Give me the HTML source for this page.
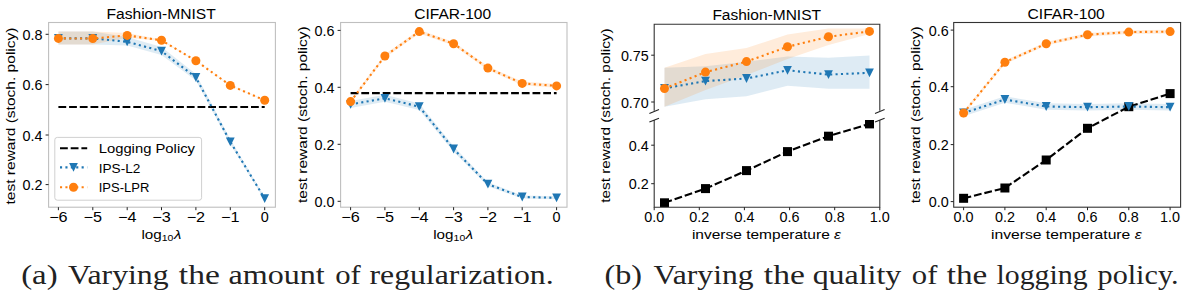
<!DOCTYPE html><html><head><meta charset="utf-8"><style>html,body{margin:0;padding:0;background:#fff;}body{width:1190px;height:292px;overflow:hidden;position:relative;}svg{position:absolute;left:0;top:0;}text{fill:#000;font-family:"Liberation Sans",sans-serif;}.cap{font-family:"Liberation Serif",serif;fill:#222;}</style></head><body>
<svg width="1190" height="292" viewBox="0 0 1190 292">
<defs><clipPath id="c1"><rect x="48.6" y="22.5" width="226.8" height="184.7"/></clipPath><clipPath id="c2"><rect x="340.6" y="22.5" width="226.4" height="184.7"/></clipPath><clipPath id="c3u"><rect x="654.2" y="24.3" width="225.6" height="86.5"/></clipPath><clipPath id="c3l"><rect x="654.2" y="120" width="225.6" height="87.2"/></clipPath><clipPath id="c4"><rect x="953.7" y="22.5" width="226.9" height="184.7"/></clipPath></defs>
<g clip-path="url(#c1)">
<polygon points="58.4,31.5 92.8,31.5 127.2,37.0 161.5,47.0 195.9,74.0 230.3,139.3 264.7,197.0 264.7,200.2 230.3,144.3 195.9,80.5 161.5,55.0 127.2,45.5 92.8,44.5 58.4,44.5" fill="#1f77b4" fill-opacity="0.14"/>
<polygon points="58.4,31.5 92.8,31.5 127.2,33.0 161.5,39.5 195.9,60.5 230.3,85.1 264.7,100.0 264.7,100.6 230.3,85.7 195.9,61.1 161.5,41.1 127.2,37.8 92.8,44.5 58.4,44.5" fill="#ff7f0e" fill-opacity="0.15"/>
<polyline points="58.4,107.0 264.7,107.0" fill="none" stroke="#000" stroke-width="2.1" stroke-dasharray="7.8 2.9"/>
<polyline points="58.4,38.4 92.8,38.4 127.2,41.8 161.5,51.1 195.9,77.5 230.3,141.8 264.7,198.6" fill="none" stroke="#1f77b4" stroke-width="2.1" stroke-dasharray="2.1 3.3"/>
<polygon points="54.00,34.00 62.80,34.00 58.40,42.80" fill="#1f77b4"/>
<polygon points="88.38,34.00 97.18,34.00 92.78,42.80" fill="#1f77b4"/>
<polygon points="122.76,37.40 131.56,37.40 127.16,46.20" fill="#1f77b4"/>
<polygon points="157.14,46.70 165.94,46.70 161.54,55.50" fill="#1f77b4"/>
<polygon points="191.52,73.10 200.32,73.10 195.92,81.90" fill="#1f77b4"/>
<polygon points="225.90,137.40 234.70,137.40 230.30,146.20" fill="#1f77b4"/>
<polygon points="260.28,194.20 269.08,194.20 264.68,203.00" fill="#1f77b4"/>
<polyline points="58.4,38.4 92.8,38.5 127.2,35.4 161.5,40.3 195.9,60.8 230.3,85.4 264.7,100.3" fill="none" stroke="#ff7f0e" stroke-width="2.1" stroke-dasharray="2.1 3.3"/>
<circle cx="58.4" cy="38.4" r="4.5" fill="#ff7f0e"/>
<circle cx="92.8" cy="38.5" r="4.5" fill="#ff7f0e"/>
<circle cx="127.2" cy="35.4" r="4.5" fill="#ff7f0e"/>
<circle cx="161.5" cy="40.3" r="4.5" fill="#ff7f0e"/>
<circle cx="195.9" cy="60.8" r="4.5" fill="#ff7f0e"/>
<circle cx="230.3" cy="85.4" r="4.5" fill="#ff7f0e"/>
<circle cx="264.7" cy="100.3" r="4.5" fill="#ff7f0e"/>
</g>
<rect x="48.6" y="22.5" width="226.79999999999998" height="184.7" fill="none" stroke="#bfbfbf" stroke-width="1.1"/>
<line x1="58.4" y1="207.2" x2="58.4" y2="210.2" stroke="#222" stroke-width="1"/>
<text x="58.4" y="222.3" font-size="13.9" text-anchor="middle" textLength="18.5" lengthAdjust="spacingAndGlyphs">−6</text>
<line x1="92.8" y1="207.2" x2="92.8" y2="210.2" stroke="#222" stroke-width="1"/>
<text x="92.8" y="222.3" font-size="13.9" text-anchor="middle" textLength="18.5" lengthAdjust="spacingAndGlyphs">−5</text>
<line x1="127.2" y1="207.2" x2="127.2" y2="210.2" stroke="#222" stroke-width="1"/>
<text x="127.2" y="222.3" font-size="13.9" text-anchor="middle" textLength="18.5" lengthAdjust="spacingAndGlyphs">−4</text>
<line x1="161.5" y1="207.2" x2="161.5" y2="210.2" stroke="#222" stroke-width="1"/>
<text x="161.5" y="222.3" font-size="13.9" text-anchor="middle" textLength="18.5" lengthAdjust="spacingAndGlyphs">−3</text>
<line x1="195.9" y1="207.2" x2="195.9" y2="210.2" stroke="#222" stroke-width="1"/>
<text x="195.9" y="222.3" font-size="13.9" text-anchor="middle" textLength="18.5" lengthAdjust="spacingAndGlyphs">−2</text>
<line x1="230.3" y1="207.2" x2="230.3" y2="210.2" stroke="#222" stroke-width="1"/>
<text x="230.3" y="222.3" font-size="13.9" text-anchor="middle" textLength="18.5" lengthAdjust="spacingAndGlyphs">−1</text>
<line x1="264.7" y1="207.2" x2="264.7" y2="210.2" stroke="#222" stroke-width="1"/>
<text x="264.7" y="222.3" font-size="13.9" text-anchor="middle" textLength="8.0" lengthAdjust="spacingAndGlyphs">0</text>
<line x1="45.6" y1="34.3" x2="48.6" y2="34.3" stroke="#222" stroke-width="1"/>
<text x="42.4" y="39.8" font-size="13.9" text-anchor="end" textLength="20.0" lengthAdjust="spacingAndGlyphs">0.8</text>
<line x1="45.6" y1="84.6" x2="48.6" y2="84.6" stroke="#222" stroke-width="1"/>
<text x="42.4" y="90.1" font-size="13.9" text-anchor="end" textLength="20.0" lengthAdjust="spacingAndGlyphs">0.6</text>
<line x1="45.6" y1="135.0" x2="48.6" y2="135.0" stroke="#222" stroke-width="1"/>
<text x="42.4" y="140.5" font-size="13.9" text-anchor="end" textLength="20.0" lengthAdjust="spacingAndGlyphs">0.4</text>
<line x1="45.6" y1="184.6" x2="48.6" y2="184.6" stroke="#222" stroke-width="1"/>
<text x="42.4" y="190.1" font-size="13.9" text-anchor="end" textLength="20.0" lengthAdjust="spacingAndGlyphs">0.2</text>
<text x="161.1" y="18.6" font-size="15.3" text-anchor="middle" textLength="109.3" lengthAdjust="spacingAndGlyphs">Fashion-MNIST</text>
<text x="141.4" y="239.1" font-size="13.0" textLength="20.3" lengthAdjust="spacingAndGlyphs">log</text>
<text x="161.8" y="241.1" font-size="9.6" textLength="11.6" lengthAdjust="spacingAndGlyphs">10</text>
<text x="174.0" y="239.1" font-size="13.6" font-style="italic" textLength="7.4" lengthAdjust="spacingAndGlyphs">λ</text>
<text transform="translate(14.6,116.0) rotate(-90)" x="0" y="0" font-size="13.2" text-anchor="middle" textLength="177.1" lengthAdjust="spacingAndGlyphs">test reward (stoch. policy)</text>
<rect x="54.8" y="137.4" width="146.8" height="62.8" rx="2.5" fill="#fff" fill-opacity="0.8" stroke="#d0d0d0" stroke-width="1"/>
<polyline points="60.0,148.2 87.2,148.2" fill="none" stroke="#000" stroke-width="2.1" stroke-dasharray="7.8 2.9"/>
<polyline points="60.0,167.4 87.2,167.4" fill="none" stroke="#1f77b4" stroke-width="2.1" stroke-dasharray="2.1 3.3"/>
<polygon points="69.10,163.00 77.90,163.00 73.50,171.80" fill="#1f77b4"/>
<polyline points="60.0,187.3 87.2,187.3" fill="none" stroke="#ff7f0e" stroke-width="2.1" stroke-dasharray="2.1 3.3"/>
<circle cx="73.5" cy="187.3" r="4.5" fill="#ff7f0e"/>
<text x="98.7" y="153.0" font-size="13.6" text-anchor="start" textLength="96.3" lengthAdjust="spacingAndGlyphs">Logging Policy</text>
<text x="98.7" y="172.5" font-size="13.6" text-anchor="start" textLength="41.7" lengthAdjust="spacingAndGlyphs">IPS-L2</text>
<text x="98.7" y="192.3" font-size="13.6" text-anchor="start" textLength="50.6" lengthAdjust="spacingAndGlyphs">IPS-LPR</text>
<g clip-path="url(#c2)">
<polygon points="350.6,100.9 384.9,94.8 419.3,103.5 453.6,146.2 487.9,182.2 522.2,195.5 556.6,196.3 556.6,199.3 522.2,198.5 487.9,186.2 453.6,151.8 419.3,109.9 384.9,101.8 350.6,107.9" fill="#1f77b4" fill-opacity="0.14"/>
<polygon points="350.6,99.8 384.9,54.2 419.3,29.8 453.6,41.9 487.9,66.3 522.2,81.6 556.6,84.1 556.6,87.7 522.2,85.2 487.9,69.9 453.6,45.5 419.3,33.4 384.9,57.8 350.6,103.4" fill="#ff7f0e" fill-opacity="0.15"/>
<polyline points="350.6,93.1 556.6,93.1" fill="none" stroke="#000" stroke-width="2.1" stroke-dasharray="7.8 2.9"/>
<polyline points="350.6,104.4 384.9,98.3 419.3,106.7 453.6,149.0 487.9,184.2 522.2,197.0 556.6,197.8" fill="none" stroke="#1f77b4" stroke-width="2.1" stroke-dasharray="2.1 3.3"/>
<polygon points="346.20,100.00 355.00,100.00 350.60,108.80" fill="#1f77b4"/>
<polygon points="380.53,93.90 389.33,93.90 384.93,102.70" fill="#1f77b4"/>
<polygon points="414.86,102.30 423.66,102.30 419.26,111.10" fill="#1f77b4"/>
<polygon points="449.19,144.60 457.99,144.60 453.59,153.40" fill="#1f77b4"/>
<polygon points="483.52,179.80 492.32,179.80 487.92,188.60" fill="#1f77b4"/>
<polygon points="517.85,192.60 526.65,192.60 522.25,201.40" fill="#1f77b4"/>
<polygon points="552.18,193.40 560.98,193.40 556.58,202.20" fill="#1f77b4"/>
<polyline points="350.6,101.6 384.9,56.0 419.3,31.6 453.6,43.7 487.9,68.1 522.2,83.4 556.6,85.9" fill="none" stroke="#ff7f0e" stroke-width="2.1" stroke-dasharray="2.1 3.3"/>
<circle cx="350.6" cy="101.6" r="4.5" fill="#ff7f0e"/>
<circle cx="384.9" cy="56.0" r="4.5" fill="#ff7f0e"/>
<circle cx="419.3" cy="31.6" r="4.5" fill="#ff7f0e"/>
<circle cx="453.6" cy="43.7" r="4.5" fill="#ff7f0e"/>
<circle cx="487.9" cy="68.1" r="4.5" fill="#ff7f0e"/>
<circle cx="522.2" cy="83.4" r="4.5" fill="#ff7f0e"/>
<circle cx="556.6" cy="85.9" r="4.5" fill="#ff7f0e"/>
</g>
<rect x="340.6" y="22.5" width="226.39999999999998" height="184.7" fill="none" stroke="#bfbfbf" stroke-width="1.1"/>
<line x1="350.6" y1="207.2" x2="350.6" y2="210.2" stroke="#222" stroke-width="1"/>
<text x="350.6" y="222.3" font-size="13.9" text-anchor="middle" textLength="18.5" lengthAdjust="spacingAndGlyphs">−6</text>
<line x1="384.9" y1="207.2" x2="384.9" y2="210.2" stroke="#222" stroke-width="1"/>
<text x="384.9" y="222.3" font-size="13.9" text-anchor="middle" textLength="18.5" lengthAdjust="spacingAndGlyphs">−5</text>
<line x1="419.3" y1="207.2" x2="419.3" y2="210.2" stroke="#222" stroke-width="1"/>
<text x="419.3" y="222.3" font-size="13.9" text-anchor="middle" textLength="18.5" lengthAdjust="spacingAndGlyphs">−4</text>
<line x1="453.6" y1="207.2" x2="453.6" y2="210.2" stroke="#222" stroke-width="1"/>
<text x="453.6" y="222.3" font-size="13.9" text-anchor="middle" textLength="18.5" lengthAdjust="spacingAndGlyphs">−3</text>
<line x1="487.9" y1="207.2" x2="487.9" y2="210.2" stroke="#222" stroke-width="1"/>
<text x="487.9" y="222.3" font-size="13.9" text-anchor="middle" textLength="18.5" lengthAdjust="spacingAndGlyphs">−2</text>
<line x1="522.2" y1="207.2" x2="522.2" y2="210.2" stroke="#222" stroke-width="1"/>
<text x="522.2" y="222.3" font-size="13.9" text-anchor="middle" textLength="18.5" lengthAdjust="spacingAndGlyphs">−1</text>
<line x1="556.6" y1="207.2" x2="556.6" y2="210.2" stroke="#222" stroke-width="1"/>
<text x="556.6" y="222.3" font-size="13.9" text-anchor="middle" textLength="8.0" lengthAdjust="spacingAndGlyphs">0</text>
<line x1="337.6" y1="30.4" x2="340.6" y2="30.4" stroke="#222" stroke-width="1"/>
<text x="334.4" y="35.9" font-size="13.9" text-anchor="end" textLength="20.0" lengthAdjust="spacingAndGlyphs">0.6</text>
<line x1="337.6" y1="87.3" x2="340.6" y2="87.3" stroke="#222" stroke-width="1"/>
<text x="334.4" y="92.8" font-size="13.9" text-anchor="end" textLength="20.0" lengthAdjust="spacingAndGlyphs">0.4</text>
<line x1="337.6" y1="144.3" x2="340.6" y2="144.3" stroke="#222" stroke-width="1"/>
<text x="334.4" y="149.8" font-size="13.9" text-anchor="end" textLength="20.0" lengthAdjust="spacingAndGlyphs">0.2</text>
<line x1="337.6" y1="201.3" x2="340.6" y2="201.3" stroke="#222" stroke-width="1"/>
<text x="334.4" y="206.8" font-size="13.9" text-anchor="end" textLength="20.0" lengthAdjust="spacingAndGlyphs">0.0</text>
<text x="452.7" y="18.6" font-size="15.3" text-anchor="middle" textLength="76.8" lengthAdjust="spacingAndGlyphs">CIFAR-100</text>
<text x="433.2" y="239.1" font-size="13.0" textLength="20.3" lengthAdjust="spacingAndGlyphs">log</text>
<text x="453.6" y="241.1" font-size="9.6" textLength="11.6" lengthAdjust="spacingAndGlyphs">10</text>
<text x="465.8" y="239.1" font-size="13.6" font-style="italic" textLength="7.4" lengthAdjust="spacingAndGlyphs">λ</text>
<text transform="translate(306.7,114.7) rotate(-90)" x="0" y="0" font-size="13.2" text-anchor="middle" textLength="176.7" lengthAdjust="spacingAndGlyphs">test reward (stoch. policy)</text>
<g clip-path="url(#c3u)">
<polygon points="664.5,67.7 705.5,66.2 746.5,61.7 787.5,56.5 828.5,57.7 869.5,55.6 869.5,88.8 828.5,88.8 787.5,85.7 746.5,96.3 705.5,99.3 664.5,106.8" fill="#1f77b4" fill-opacity="0.15"/>
<polygon points="664.5,67.7 705.5,54.1 746.5,48.1 787.5,34.5 828.5,28.5 869.5,28.5 869.5,34.0 828.5,45.0 787.5,59.0 746.5,75.0 705.5,90.0 664.5,106.8" fill="#ff7f0e" fill-opacity="0.15"/>
<polyline points="664.5,88.3 705.5,81.1 746.5,78.5 787.5,70.3 828.5,74.6 869.5,72.8" fill="none" stroke="#1f77b4" stroke-width="2.1" stroke-dasharray="2.1 3.3"/>
<polygon points="660.10,83.90 668.90,83.90 664.50,92.70" fill="#1f77b4"/>
<polygon points="701.10,76.70 709.90,76.70 705.50,85.50" fill="#1f77b4"/>
<polygon points="742.10,74.10 750.90,74.10 746.50,82.90" fill="#1f77b4"/>
<polygon points="783.10,65.90 791.90,65.90 787.50,74.70" fill="#1f77b4"/>
<polygon points="824.10,70.20 832.90,70.20 828.50,79.00" fill="#1f77b4"/>
<polygon points="865.10,68.40 873.90,68.40 869.50,77.20" fill="#1f77b4"/>
<polyline points="664.5,88.5 705.5,72.1 746.5,61.6 787.5,46.8 828.5,36.7 869.5,31.4" fill="none" stroke="#ff7f0e" stroke-width="2.1" stroke-dasharray="2.1 3.3"/>
<circle cx="664.5" cy="88.5" r="4.5" fill="#ff7f0e"/>
<circle cx="705.5" cy="72.1" r="4.5" fill="#ff7f0e"/>
<circle cx="746.5" cy="61.6" r="4.5" fill="#ff7f0e"/>
<circle cx="787.5" cy="46.8" r="4.5" fill="#ff7f0e"/>
<circle cx="828.5" cy="36.7" r="4.5" fill="#ff7f0e"/>
<circle cx="869.5" cy="31.4" r="4.5" fill="#ff7f0e"/>
</g>
<g clip-path="url(#c3l)">
<polyline points="664.5,202.8 705.5,188.6 746.5,170.6 787.5,151.6 828.5,136.2 869.5,123.9" fill="none" stroke="#000" stroke-width="2.1" stroke-dasharray="7.8 2.9"/>
<rect x="660.0" y="198.3" width="9.0" height="9.0" fill="#000"/>
<rect x="701.0" y="184.1" width="9.0" height="9.0" fill="#000"/>
<rect x="742.0" y="166.1" width="9.0" height="9.0" fill="#000"/>
<rect x="783.0" y="147.1" width="9.0" height="9.0" fill="#000"/>
<rect x="824.0" y="131.7" width="9.0" height="9.0" fill="#000"/>
<rect x="865.0" y="119.4" width="9.0" height="9.0" fill="#000"/>
</g>
<polyline points="654.2,110.8 654.2,24.3 879.8,24.3 879.8,110.8" fill="none" stroke="#333" stroke-width="1.1"/>
<polyline points="654.2,120 654.2,207.2 879.8,207.2 879.8,120" fill="none" stroke="#333" stroke-width="1.1"/>
<line x1="649.4000000000001" y1="113.4" x2="659.0" y2="109.6" stroke="#222" stroke-width="1.1"/>
<line x1="649.4000000000001" y1="121.9" x2="659.0" y2="118.2" stroke="#222" stroke-width="1.1"/>
<line x1="875.0" y1="113.4" x2="884.5999999999999" y2="109.6" stroke="#222" stroke-width="1.1"/>
<line x1="875.0" y1="121.9" x2="884.5999999999999" y2="118.2" stroke="#222" stroke-width="1.1"/>
<line x1="654.2" y1="207.2" x2="654.2" y2="210.2" stroke="#222" stroke-width="1"/>
<text x="654.2" y="222.3" font-size="13.9" text-anchor="middle" textLength="20.0" lengthAdjust="spacingAndGlyphs">0.0</text>
<line x1="699.3" y1="207.2" x2="699.3" y2="210.2" stroke="#222" stroke-width="1"/>
<text x="699.3" y="222.3" font-size="13.9" text-anchor="middle" textLength="20.0" lengthAdjust="spacingAndGlyphs">0.2</text>
<line x1="744.4" y1="207.2" x2="744.4" y2="210.2" stroke="#222" stroke-width="1"/>
<text x="744.4" y="222.3" font-size="13.9" text-anchor="middle" textLength="20.0" lengthAdjust="spacingAndGlyphs">0.4</text>
<line x1="789.6" y1="207.2" x2="789.6" y2="210.2" stroke="#222" stroke-width="1"/>
<text x="789.6" y="222.3" font-size="13.9" text-anchor="middle" textLength="20.0" lengthAdjust="spacingAndGlyphs">0.6</text>
<line x1="834.7" y1="207.2" x2="834.7" y2="210.2" stroke="#222" stroke-width="1"/>
<text x="834.7" y="222.3" font-size="13.9" text-anchor="middle" textLength="20.0" lengthAdjust="spacingAndGlyphs">0.8</text>
<line x1="879.8" y1="207.2" x2="879.8" y2="210.2" stroke="#222" stroke-width="1"/>
<text x="879.8" y="222.3" font-size="13.9" text-anchor="middle" textLength="20.0" lengthAdjust="spacingAndGlyphs">1.0</text>
<line x1="651.2" y1="55.2" x2="654.2" y2="55.2" stroke="#222" stroke-width="1"/>
<text x="648.8" y="60.7" font-size="13.9" text-anchor="end" textLength="27.9" lengthAdjust="spacingAndGlyphs">0.75</text>
<line x1="651.2" y1="102.0" x2="654.2" y2="102.0" stroke="#222" stroke-width="1"/>
<text x="648.8" y="107.5" font-size="13.9" text-anchor="end" textLength="27.9" lengthAdjust="spacingAndGlyphs">0.70</text>
<line x1="651.2" y1="145.2" x2="654.2" y2="145.2" stroke="#222" stroke-width="1"/>
<text x="648.8" y="150.7" font-size="13.9" text-anchor="end" textLength="20.0" lengthAdjust="spacingAndGlyphs">0.4</text>
<line x1="651.2" y1="183.7" x2="654.2" y2="183.7" stroke="#222" stroke-width="1"/>
<text x="648.8" y="189.2" font-size="13.9" text-anchor="end" textLength="20.0" lengthAdjust="spacingAndGlyphs">0.2</text>
<text x="766.7" y="19.9" font-size="15.3" text-anchor="middle" textLength="108.6" lengthAdjust="spacingAndGlyphs">Fashion-MNIST</text>
<text x="766.4" y="238.8" font-size="13.6" text-anchor="middle" textLength="149.0" lengthAdjust="spacingAndGlyphs">inverse temperature <tspan font-style="italic">ε</tspan></text>
<text transform="translate(610.0,115.6) rotate(-90)" x="0" y="0" font-size="13.2" text-anchor="middle" textLength="174.4" lengthAdjust="spacingAndGlyphs">test reward (stoch. policy)</text>
<g clip-path="url(#c4)">
<polygon points="963.6,109.8 1004.9,96.3 1046.2,103.3 1087.5,104.0 1128.8,103.3 1170.1,104.0 1170.1,110.4 1128.8,109.7 1087.5,110.4 1046.2,109.7 1004.9,102.7 963.6,116.2" fill="#1f77b4" fill-opacity="0.15"/>
<polygon points="963.6,111.2 1004.9,60.4 1046.2,41.9 1087.5,32.9 1128.8,30.3 1170.1,29.8 1170.1,33.4 1128.8,33.9 1087.5,36.5 1046.2,45.5 1004.9,64.0 963.6,114.8" fill="#ff7f0e" fill-opacity="0.15"/>
<polyline points="963.6,198.3 1004.9,188.0 1046.2,160.0 1087.5,128.3 1128.8,106.7 1170.1,93.6" fill="none" stroke="#000" stroke-width="2.1" stroke-dasharray="7.8 2.9"/>
<rect x="959.1" y="193.8" width="9.0" height="9.0" fill="#000"/>
<rect x="1000.4" y="183.5" width="9.0" height="9.0" fill="#000"/>
<rect x="1041.7" y="155.5" width="9.0" height="9.0" fill="#000"/>
<rect x="1083.0" y="123.8" width="9.0" height="9.0" fill="#000"/>
<rect x="1124.3" y="102.2" width="9.0" height="9.0" fill="#000"/>
<rect x="1165.6" y="89.1" width="9.0" height="9.0" fill="#000"/>
<polyline points="963.6,113.0 1004.9,99.5 1046.2,106.5 1087.5,107.2 1128.8,106.5 1170.1,107.2" fill="none" stroke="#1f77b4" stroke-width="2.1" stroke-dasharray="2.1 3.3"/>
<polygon points="959.20,108.60 968.00,108.60 963.60,117.40" fill="#1f77b4"/>
<polygon points="1000.50,95.10 1009.30,95.10 1004.90,103.90" fill="#1f77b4"/>
<polygon points="1041.80,102.10 1050.60,102.10 1046.20,110.90" fill="#1f77b4"/>
<polygon points="1083.10,102.80 1091.90,102.80 1087.50,111.60" fill="#1f77b4"/>
<polygon points="1124.40,102.10 1133.20,102.10 1128.80,110.90" fill="#1f77b4"/>
<polygon points="1165.70,102.80 1174.50,102.80 1170.10,111.60" fill="#1f77b4"/>
<polyline points="963.6,113.0 1004.9,62.2 1046.2,43.7 1087.5,34.7 1128.8,32.1 1170.1,31.6" fill="none" stroke="#ff7f0e" stroke-width="2.1" stroke-dasharray="2.1 3.3"/>
<circle cx="963.6" cy="113.0" r="4.5" fill="#ff7f0e"/>
<circle cx="1004.9" cy="62.2" r="4.5" fill="#ff7f0e"/>
<circle cx="1046.2" cy="43.7" r="4.5" fill="#ff7f0e"/>
<circle cx="1087.5" cy="34.7" r="4.5" fill="#ff7f0e"/>
<circle cx="1128.8" cy="32.1" r="4.5" fill="#ff7f0e"/>
<circle cx="1170.1" cy="31.6" r="4.5" fill="#ff7f0e"/>
</g>
<rect x="953.7" y="22.5" width="226.89999999999986" height="184.7" fill="none" stroke="#333" stroke-width="1.1"/>
<line x1="963.6" y1="207.2" x2="963.6" y2="210.2" stroke="#222" stroke-width="1"/>
<text x="963.6" y="222.3" font-size="13.9" text-anchor="middle" textLength="20.0" lengthAdjust="spacingAndGlyphs">0.0</text>
<line x1="1004.9" y1="207.2" x2="1004.9" y2="210.2" stroke="#222" stroke-width="1"/>
<text x="1004.9" y="222.3" font-size="13.9" text-anchor="middle" textLength="20.0" lengthAdjust="spacingAndGlyphs">0.2</text>
<line x1="1046.2" y1="207.2" x2="1046.2" y2="210.2" stroke="#222" stroke-width="1"/>
<text x="1046.2" y="222.3" font-size="13.9" text-anchor="middle" textLength="20.0" lengthAdjust="spacingAndGlyphs">0.4</text>
<line x1="1087.5" y1="207.2" x2="1087.5" y2="210.2" stroke="#222" stroke-width="1"/>
<text x="1087.5" y="222.3" font-size="13.9" text-anchor="middle" textLength="20.0" lengthAdjust="spacingAndGlyphs">0.6</text>
<line x1="1128.8" y1="207.2" x2="1128.8" y2="210.2" stroke="#222" stroke-width="1"/>
<text x="1128.8" y="222.3" font-size="13.9" text-anchor="middle" textLength="20.0" lengthAdjust="spacingAndGlyphs">0.8</text>
<line x1="1170.1" y1="207.2" x2="1170.1" y2="210.2" stroke="#222" stroke-width="1"/>
<text x="1170.1" y="222.3" font-size="13.9" text-anchor="middle" textLength="20.0" lengthAdjust="spacingAndGlyphs">1.0</text>
<line x1="950.7" y1="30.1" x2="953.7" y2="30.1" stroke="#222" stroke-width="1"/>
<text x="948.8" y="35.6" font-size="13.9" text-anchor="end" textLength="20.0" lengthAdjust="spacingAndGlyphs">0.6</text>
<line x1="950.7" y1="86.7" x2="953.7" y2="86.7" stroke="#222" stroke-width="1"/>
<text x="948.8" y="92.2" font-size="13.9" text-anchor="end" textLength="20.0" lengthAdjust="spacingAndGlyphs">0.4</text>
<line x1="950.7" y1="144.6" x2="953.7" y2="144.6" stroke="#222" stroke-width="1"/>
<text x="948.8" y="150.1" font-size="13.9" text-anchor="end" textLength="20.0" lengthAdjust="spacingAndGlyphs">0.2</text>
<line x1="950.7" y1="201.6" x2="953.7" y2="201.6" stroke="#222" stroke-width="1"/>
<text x="948.8" y="207.1" font-size="13.9" text-anchor="end" textLength="20.0" lengthAdjust="spacingAndGlyphs">0.0</text>
<text x="1066.2" y="18.6" font-size="15.3" text-anchor="middle" textLength="77.2" lengthAdjust="spacingAndGlyphs">CIFAR-100</text>
<text x="1066.3" y="238.8" font-size="13.6" text-anchor="middle" textLength="150.5" lengthAdjust="spacingAndGlyphs">inverse temperature <tspan font-style="italic">ε</tspan></text>
<text transform="translate(919.8,114.7) rotate(-90)" x="0" y="0" font-size="13.2" text-anchor="middle" textLength="177.0" lengthAdjust="spacingAndGlyphs">test reward (stoch. policy)</text>
<text class="cap" x="21.21" y="284.3" font-size="27.0" textLength="36.38" lengthAdjust="spacingAndGlyphs">(a)</text>
<text class="cap" x="68.08" y="284.3" font-size="27.0" textLength="100.51" lengthAdjust="spacingAndGlyphs">Varying</text>
<text class="cap" x="178.86" y="284.3" font-size="27.0" textLength="40.98" lengthAdjust="spacingAndGlyphs">the</text>
<text class="cap" x="228.58" y="284.3" font-size="27.0" textLength="96.17" lengthAdjust="spacingAndGlyphs">amount</text>
<text class="cap" x="335.25" y="284.3" font-size="27.0" textLength="25.57" lengthAdjust="spacingAndGlyphs">of</text>
<text class="cap" x="369.47" y="284.3" font-size="27.0" textLength="184.21" lengthAdjust="spacingAndGlyphs">regularization.</text>
<text class="cap" x="604.53" y="284.3" font-size="27.0" textLength="37.57" lengthAdjust="spacingAndGlyphs">(b)</text>
<text class="cap" x="653.48" y="284.3" font-size="27.0" textLength="100.1" lengthAdjust="spacingAndGlyphs">Varying</text>
<text class="cap" x="763.86" y="284.3" font-size="27.0" textLength="40.98" lengthAdjust="spacingAndGlyphs">the</text>
<text class="cap" x="812.68" y="284.3" font-size="27.0" textLength="88.59" lengthAdjust="spacingAndGlyphs">quality</text>
<text class="cap" x="911.85" y="284.3" font-size="27.0" textLength="25.57" lengthAdjust="spacingAndGlyphs">of</text>
<text class="cap" x="946.77" y="284.3" font-size="27.0" textLength="40.57" lengthAdjust="spacingAndGlyphs">the</text>
<text class="cap" x="996.5" y="284.3" font-size="27.0" textLength="91.14" lengthAdjust="spacingAndGlyphs">logging</text>
<text class="cap" x="1097.55" y="284.3" font-size="27.0" textLength="81.0" lengthAdjust="spacingAndGlyphs">policy.</text>
</svg></body></html>
